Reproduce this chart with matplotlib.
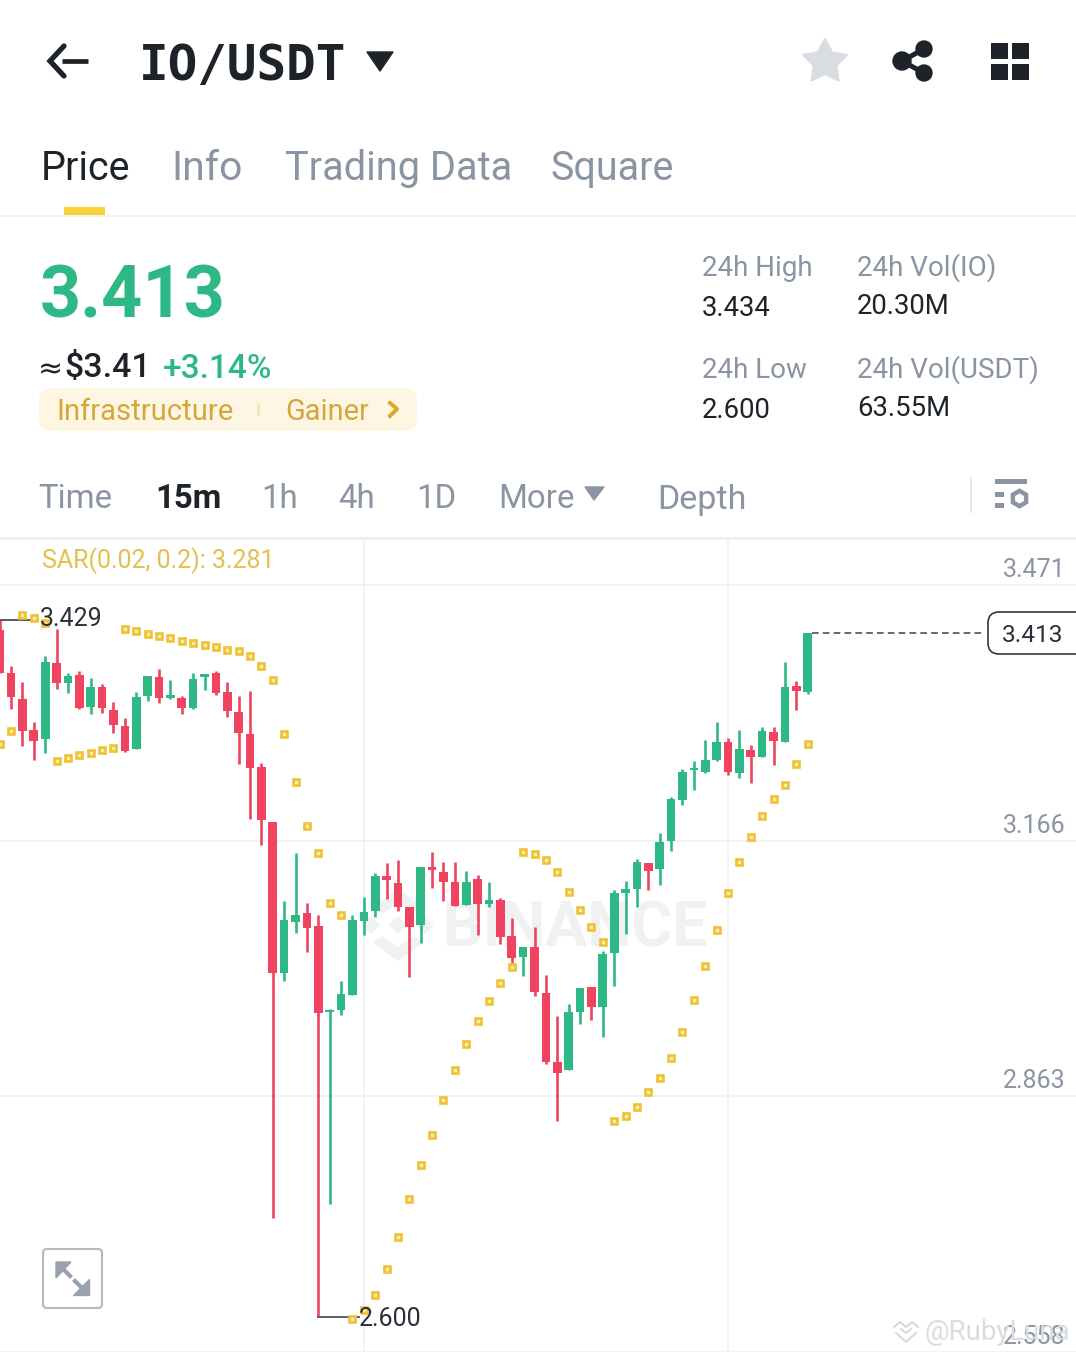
import matplotlib
matplotlib.use('Agg')
import matplotlib.pyplot as plt
from matplotlib.patches import FancyBboxPatch, Polygon, Rectangle, Circle
import numpy as np

W, H = 1076, 1352

# свечи: open, high, low, close
opens = [3.417, 3.366, 3.335, 3.298, 3.287, 3.378, 3.354, 3.363, 3.325, 3.349, 3.322, 3.303,
         3.275, 3.339, 3.361, 3.336, 3.336, 3.324, 3.361, 3.366, 3.343, 3.319, 3.293, 3.254,
         3.189, 3.009, 3.070, 3.080, 3.065, 2.963, 2.965, 2.983, 3.071, 3.083, 3.124, 3.116,
         3.088, 3.066, 3.135, 3.129, 3.117, 3.090, 3.121, 3.091, 3.096, 3.053, 3.028, 3.040,
         2.985, 2.903, 2.894, 2.963, 2.992, 2.969, 3.033, 3.104, 3.109, 3.140, 3.133, 3.166,
         3.215, 3.251, 3.248, 3.262, 3.284, 3.247, 3.274, 3.266, 3.296, 3.284, 3.350, 3.343]
highs = [3.429, 3.374, 3.355, 3.308, 3.386, 3.418, 3.366, 3.368, 3.360, 3.353, 3.331, 3.312,
         3.343, 3.362, 3.371, 3.358, 3.338, 3.366, 3.365, 3.368, 3.355, 3.338, 3.344, 3.259,
         3.189, 3.094, 3.152, 3.092, 3.078, 2.966, 2.999, 3.078, 3.099, 3.128, 3.140, 3.143,
         3.088, 3.135, 3.153, 3.141, 3.141, 3.130, 3.126, 3.117, 3.098, 3.074, 3.040, 3.064,
         3.007, 2.958, 2.972, 2.991, 2.992, 3.035, 3.108, 3.118, 3.145, 3.140, 3.176, 3.218,
         3.252, 3.261, 3.286, 3.308, 3.289, 3.298, 3.280, 3.302, 3.302, 3.379, 3.356, 3.413]
lows = [3.366, 3.323, 3.279, 3.262, 3.271, 3.347, 3.342, 3.323, 3.317, 3.318, 3.295, 3.272,
        3.275, 3.333, 3.330, 3.335, 3.317, 3.323, 3.346, 3.340, 3.314, 3.258, 3.192, 3.161,
        2.718, 2.999, 3.057, 3.034, 2.600, 2.734, 2.959, 2.983, 3.054, 3.076, 3.097, 3.083,
        3.004, 3.045, 3.110, 3.095, 3.089, 3.090, 3.054, 3.088, 3.044, 3.021, 3.005, 2.982,
        2.901, 2.833, 2.894, 2.948, 2.953, 2.933, 2.994, 3.055, 3.088, 3.108, 3.114, 3.154,
        3.209, 3.227, 3.247, 3.261, 3.245, 3.241, 3.235, 3.266, 3.256, 3.284, 3.322, 3.341]
closes = [3.366, 3.337, 3.297, 3.285, 3.379, 3.354, 3.362, 3.324, 3.349, 3.324, 3.304, 3.273,
          3.337, 3.362, 3.336, 3.340, 3.324, 3.359, 3.365, 3.342, 3.321, 3.294, 3.253, 3.191,
          3.009, 3.072, 3.078, 3.062, 2.961, 2.965, 2.984, 3.072, 3.082, 3.124, 3.119, 3.088,
          3.064, 3.135, 3.132, 3.117, 3.089, 3.117, 3.091, 3.096, 3.052, 3.027, 3.040, 2.986,
          2.903, 2.890, 2.963, 2.991, 2.969, 3.032, 3.104, 3.109, 3.141, 3.130, 3.165, 3.216,
          3.248, 3.253, 3.262, 3.284, 3.248, 3.276, 3.266, 3.297, 3.285, 3.349, 3.344, 3.413]
sar = [3.281, 3.297, 3.435, 3.431, 3.425, 3.261, 3.265, 3.268, 3.271, 3.274, 3.277, 3.418,
       3.416, 3.412, 3.410, 3.407, 3.404, 3.401, 3.399, 3.397, 3.393, 3.392, 3.386, 3.374,
       3.358, 3.293, 3.236, 3.184, 3.152, 3.092, 3.078, 2.597, 2.608, 2.626, 2.657, 2.695,
       2.740, 2.781, 2.816, 2.858, 2.894, 2.925, 2.952, 2.976, 2.997, 3.016, 3.153, 3.151,
       3.143, 3.129, 3.105, 3.084, 3.064, 3.046, 2.833, 2.839, 2.850, 2.867, 2.884, 2.908,
       2.939, 2.977, 3.017, 3.060, 3.104, 3.141, 3.171, 3.196, 3.216, 3.233, 3.258, 3.281]

price_ticks = [3.471, 3.166, 2.863, 2.558]
time_grid = [32, 64]
last_price = 3.413
high_mark = 3.429
low_mark = 2.600

GREEN = '#2EB886'
RED = '#F0435F'
DARK = '#1E2329'
GREY = '#8A94A3'
GOLD = '#D4A73A'
GRID = '#EEF0F2'
UI_FONT = ['Roboto', 'DejaVu Sans']

fig = plt.figure(figsize=(W / 100, H / 100), dpi=100, facecolor='white')

# верхняя часть экрана рисуется в пикселях
ui = fig.add_axes([0, 0, 1, 1], zorder=1)
ui.set_xlim(0, W)
ui.set_ylim(H, 0)
ui.axis('off')


def txt(x, y, s, px, color=DARK, weight='normal', ha='left', family=UI_FONT, axes=ui):
    return axes.text(x, y, s, fontsize=px * 0.72, color=color, fontweight=weight,
                     ha=ha, va='center_baseline', family=family)


# шапка
ui.plot([62, 88], [61, 61], color=DARK, lw=3.4, solid_capstyle='butt')
ui.plot([64, 50, 64], [46, 61, 76], color=DARK, lw=3.8, solid_joinstyle='miter', solid_capstyle='round')
txt(139, 61, 'IO/USDT', 49.2, weight='bold', family=['DejaVu Sans Mono'])
ui.add_patch(Polygon([[367, 52], [393, 52], [380, 71]], closed=True, color=DARK, joinstyle='round'))
# звезда
ang = np.pi / 2 + np.arange(10) * np.pi / 5
rad = np.where(np.arange(10) % 2 == 0, 23, 12)
ui.add_patch(Polygon(np.c_[825 + rad * np.cos(ang), 62 - rad * np.sin(ang)], closed=True,
                     fc='#D9DCE0', ec='#D9DCE0', lw=1.5, joinstyle='round'))
# значок "поделиться"
share_x = [924, 902, 924]
share_y = [49, 61, 73]
ui.plot(share_x, share_y, color=DARK, lw=3.6)
for sx, sy in zip(share_x, share_y):
    ui.add_patch(Circle((sx, sy), 8 if sx > 910 else 9, color=DARK))
# значок сетки
for gx in (991, 1012):
    for gy in (43, 64):
        ui.add_patch(Rectangle((gx, gy), 17, 15.5, color=DARK, lw=0))

# вкладки
txt(41, 165, 'Price', 39.5, color=DARK)
txt(171, 165, 'Info', 41, color=GREY)
txt(285, 165, 'Trading Data', 39.7, color=GREY)
txt(551, 165, 'Square', 39.5, color=GREY)
ui.add_patch(Rectangle((64, 207), 41, 8, color='#F8D33A', lw=0))
ui.plot([0, W], [216, 216], color=GRID, lw=1.2)

# блок цены
txt(40, 290, '3.413', 72, color=GREEN, weight='bold')
txt(38, 367, '≈', 30, color=DARK, family=['DejaVu Sans'])
txt(64, 365, '$3.41', 34, color=DARK, weight='medium')
txt(163, 365, '+3.14%', 33.5, color=GREEN, weight='medium')
ui.add_patch(FancyBboxPatch((47, 396), 362, 27, boxstyle='round,pad=8,rounding_size=12',
                            fc='#FDF6E2', ec='none'))
txt(56, 409, 'Infrastructure', 29.2, color=GOLD)
ui.plot([258, 258], [404, 415], color='#F1E4BC', lw=1.8)
txt(285, 409, 'Gainer', 29, color=GOLD)
ui.plot([390, 397, 390], [403, 409, 416], color='#D9A920', lw=2.8)

for x, y, s, c, px in [(702, 266, '24h High', GREY, 27.8), (702, 306, '3.434', DARK, 27.5),
                       (702, 368, '24h Low', GREY, 27.8), (702, 408, '2.600', DARK, 27.5),
                       (857, 264, '24h Vol(IO)', GREY, 27.8), (857, 304, '20.30M', DARK, 27.5),
                       (857, 366, '24h Vol(USDT)', GREY, 27.8), (857, 406, '63.55M', DARK, 27.5)]:
    txt(x, y, s, px, color=c)

# панель интервалов
txt(38, 496, 'Time', 33, color=GREY)
txt(155, 496, '15m', 33, color=DARK, weight='bold')
txt(261, 496, '1h', 33, color=GREY)
txt(338, 496, '4h', 33, color=GREY)
txt(416, 496, '1D', 33, color=GREY)
txt(498, 496, 'More', 33, color=GREY)
ui.add_patch(Polygon([[585, 487], [604, 487], [594, 500]], closed=True, color=GREY))
txt(657, 496, 'Depth', 34, color=GREY)
ui.plot([971, 971], [478, 512], color='#E6E8EB', lw=1.5)
ui.add_patch(Rectangle((995, 479), 32, 5, color=GREY, lw=0))
ui.add_patch(Rectangle((995, 492), 9, 5, color=GREY, lw=0))
ui.add_patch(Rectangle((995, 503), 9, 5, color=GREY, lw=0))
ui.plot([1019], [498], marker='h', ms=11, mfc='white', mec=GREY, mew=3.2)

# кнопка развёртывания
ui.add_patch(FancyBboxPatch((46, 1252), 53, 53, boxstyle='round,pad=3,rounding_size=4',
                            fc='white', ec='#B4B9C0', lw=1.5, zorder=5))
ui.add_patch(Polygon([[56, 1262], [71, 1262], [56, 1278]], closed=True, color='#98A1AD', zorder=6))
ui.add_patch(Polygon([[89, 1279], [89, 1295], [73, 1295]], closed=True, color='#98A1AD', zorder=6))
ui.plot([60, 70], [1266, 1276], color='#98A1AD', lw=3, zorder=6)
ui.plot([75, 85], [1281, 1291], color='#98A1AD', lw=3, zorder=6)

# график
chart_top, chart_bottom = 540, 1352
ax = fig.add_axes([0, 0, 1, 1 - chart_top / H], zorder=2)
ax.patch.set_alpha(0)
for s in ax.spines.values():
    s.set_visible(False)
ax.set_xlim(0.03, 94.58)
ax.set_ylim(2.5582, 3.5241)
ax.tick_params(length=0, labelbottom=False, labelleft=False)
ax.set_yticks(price_ticks)
ax.set_xticks(time_grid)
ax.grid(True, color=GRID, lw=1.1)
ax.set_axisbelow(True)
ui.plot([0, W], [538, 538], color=GRID, lw=2.2)

# водяной знак
ax.text(50.6, 3.061, 'BINANCE', fontsize=45, fontweight='bold', color='#F0F1F3',
        family=['Roboto', 'DejaVu Sans'], ha='center', va='center', zorder=0.5)
logo = fig.add_axes([0, 0, 1, 1], zorder=1.5)
logo.set_xlim(0, W)
logo.set_ylim(H, 0)
logo.axis('off')
lx, ly = 398, 925
for pts in ([[-9, 0], [0, -9], [9, 0], [0, 9]],
            [[-36, 0], [-27, -9], [-18, 0], [-27, 9]],
            [[18, 0], [27, -9], [36, 0], [27, 9]],
            [[-25, -18], [0, -36], [25, -18], [16, -11], [0, -22], [-16, -11]],
            [[-25, 18], [0, 36], [25, 18], [16, 11], [0, 22], [-16, 11]]):
    logo.add_patch(Polygon(np.array(pts) + [lx, ly], closed=True, color='#F0F1F3', lw=0))

x = np.arange(len(opens))
o, h, l, c = map(np.array, (opens, highs, lows, closes))
colors = [GREEN if cl >= op else RED for op, cl in zip(o, c)]
ax.vlines(x, l, h, colors=colors, lw=1.9, zorder=3)
ax.bar(x, np.abs(c - o), bottom=np.minimum(o, c), width=0.76, color=colors, lw=0, zorder=3)
ax.plot(x, sar, ls='none', marker='s', ms=4.6, mfc='#FAEBB0', mec='#EFC233', mew=1.9, zorder=4)

# линии экстремумов
ax.plot([-1, 3.4], [high_mark, high_mark], color='#3A3F47', lw=1.2, zorder=3.5)
ax.plot([28, 31.6], [low_mark, low_mark], color='#5A5F68', lw=1.4, zorder=3.5)
ax.text(3.55, high_mark + 0.001, f'{high_mark:.3f}', fontsize=18, color='#2B3038', family=UI_FONT,
        va='center', zorder=5)
ax.text(31.6, low_mark - 0.003, f'{low_mark:.3f}', fontsize=18, color='#2B3038', family=UI_FONT,
        va='center', zorder=5)

# подписи оси цен
for p in price_ticks:
    ax.annotate(f'{p:.3f}', (1, p), xycoords=('axes fraction', 'data'), xytext=(-7.5, 10.5),
                textcoords='offset points', ha='right', va='center', fontsize=18,
                color=GREY, family=UI_FONT, zorder=6)

# текущая цена
ax.plot([71.4, 86.5], [last_price, last_price], color='#4A4F57', lw=1.2, ls=(0, (4, 2.5)), zorder=3)
ui2 = fig.add_axes([0, 0, 1, 1], zorder=3)
ui2.set_xlim(0, W)
ui2.set_ylim(H, 0)
ui2.axis('off')
ui2.add_patch(FancyBboxPatch((996, 620), 90, 26, boxstyle='round,pad=8,rounding_size=11',
                             fc='white', ec='#33383F', lw=1.2))
txt(1033, 633, f'{last_price:.3f}', 24.5, color='#2B3038', ha='center', axes=ui2)
txt(42, 558, 'SAR(0.02, 0.2): 3.281', 25, color='#E3C04F', axes=ui2)

# подпись автора снизу
txt(925, 1329, '@RubyLuna', 27.5, color='#DADDE0', axes=ui2)
ui2.plot([894, 900, 906, 912, 918], [1327, 1322, 1327, 1322, 1327], color='#CFD3D7', lw=1.2)
ui2.plot([901, 906, 911], [1329, 1333, 1329], color='#CFD3D7', lw=1.2)
ui2.plot([896, 906, 916], [1333, 1342, 1333], color='#CFD3D7', lw=1.2)

fig.savefig('out.png', dpi=100, facecolor='white')
